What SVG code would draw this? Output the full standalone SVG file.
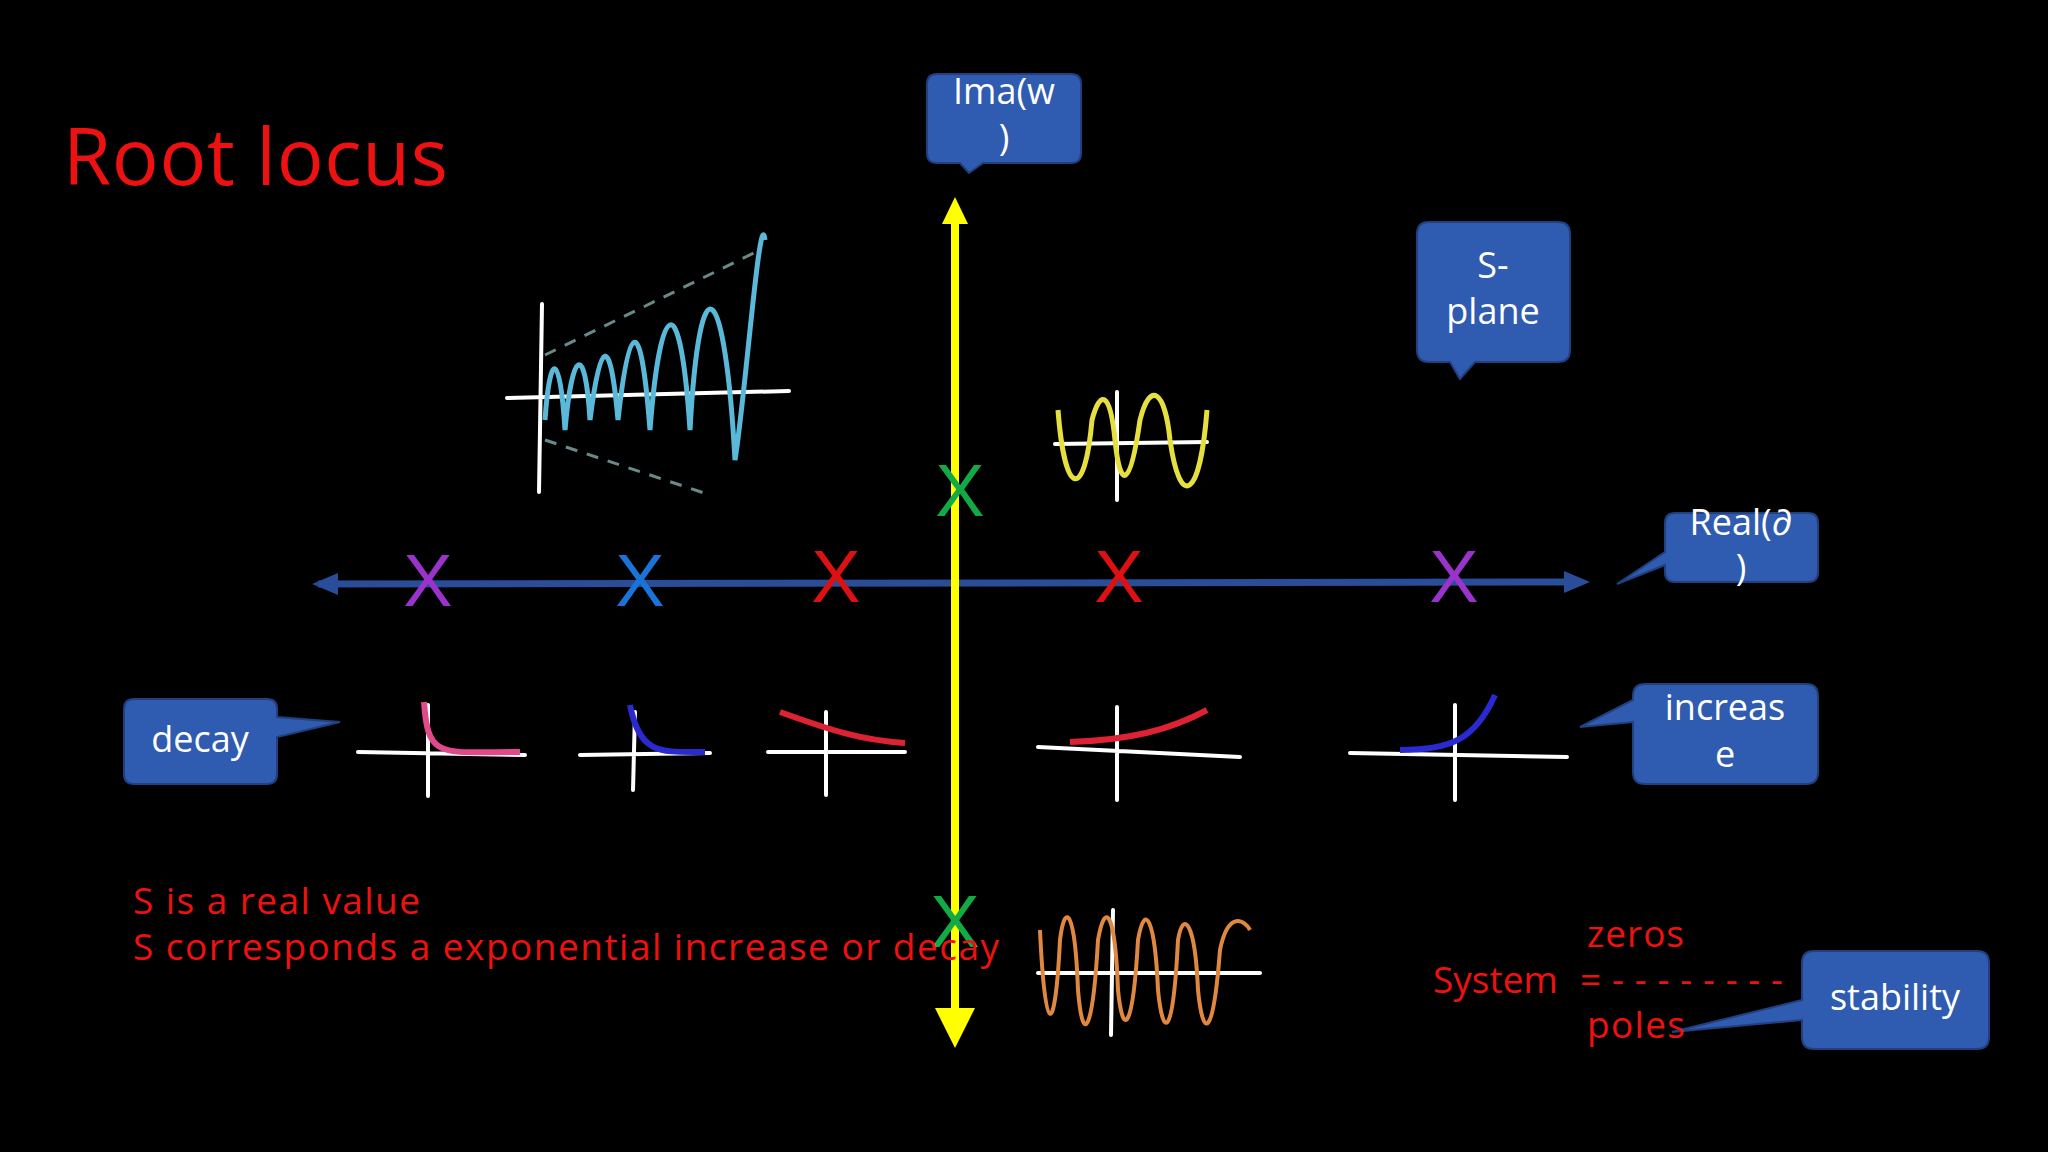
<svg xmlns="http://www.w3.org/2000/svg" width="2048" height="1152" viewBox="0 0 2048 1152">
<defs>
<style>
.cb{fill:#2f5bb0;stroke:#20407f;stroke-width:2}
.ct{font-family:"Open Sans","Liberation Sans",sans-serif;font-size:36px;fill:#fff;text-anchor:middle}
.rt{font-family:"Open Sans","Liberation Sans",sans-serif;font-size:37px;fill:#ee1111}
.x{font-family:"Liberation Sans",sans-serif;font-size:74px;text-anchor:middle}
.ax{stroke:#fff;stroke-width:4;fill:none;stroke-linecap:round}
</style>
</defs>
<rect width="2048" height="1152" fill="#000"/>
<text x="63" y="185" font-family="Open Sans,Liberation Sans,sans-serif" font-size="78" fill="#ee1111" textLength="385">Root locus</text>
<g id="connectors">
<line x1="318" y1="584" x2="1582" y2="582" stroke="#2a4d9a" stroke-width="7"/>
<path d="M312,584 L338,573 L338,595Z" fill="#2a4d9a"/>
<path d="M1590,582 L1564,571 L1564,593Z" fill="#2a4d9a"/>
<line x1="955" y1="215" x2="955" y2="1020" stroke="#ffff00" stroke-width="8"/>
<path d="M955,197 L942,224 L968,224Z" fill="#ffff00"/>
<path d="M955,1048 L935,1008 L975,1008Z" fill="#ffff00"/>
</g>
<g id="markers">
<text class="x" x="428" y="606" fill="#9933cc">X</text>
<text class="x" x="640" y="606" fill="#1a73d9">X</text>
<text class="x" x="836" y="602" fill="#dd1111">X</text>
<text class="x" x="1119" y="602" fill="#dd1111">X</text>
<text class="x" x="1454" y="602" fill="#9933cc">X</text>
<text class="x" x="960" y="516" fill="#11aa44">X</text>
<text class="x" x="955" y="947" fill="#11aa44">X</text>
</g>
<g id="sketch-growing">
<path class="ax" d="M542,304 L539,492 M507,398 L789,391"/>
<path d="M545,420 C550,350 560,350 565,430 C572,350 585,340 590,420 C600,340 610,330 618,420 C628,330 640,300 650,430 C660,300 680,280 690,430 C700,250 725,280 735,460 C745,400 760,200 765,240" fill="none" stroke="#5ab8d8" stroke-width="5"/>
<path d="M545,355 L760,250 M545,440 L710,495" stroke="#6a8a8a" stroke-width="3" stroke-dasharray="12 10" fill="none"/>
</g>
<g id="sketch-yellow">
<path class="ax" d="M1055,444 L1207,442 M1117,392 L1117,500"/>
<path d="M1058,410 C1065,500 1085,500 1092,420 C1100,390 1110,390 1115,440 C1120,490 1130,490 1140,420 C1150,380 1165,390 1170,440 C1180,510 1200,500 1207,410" fill="none" stroke="#e5e040" stroke-width="5"/>
</g>
<g id="sketch-orange">
<path class="ax" d="M1038,973 L1260,973 M1113,910 L1111,1035"/>
<path d="M1040,930 C1045,1040 1055,1040 1060,940 C1065,900 1075,910 1078,990 C1083,1050 1093,1030 1098,940 C1105,900 1115,910 1118,990 C1123,1040 1133,1030 1138,940 C1145,900 1155,920 1158,990 C1163,1040 1173,1040 1178,940 C1183,910 1195,920 1198,990 C1203,1040 1213,1040 1220,950 C1228,910 1245,920 1250,930" fill="none" stroke="#e08840" stroke-width="4"/>
</g>
<g id="sketch-small">
<path class="ax" d="M358,752 L525,755 M428,705 L428,796"/>
<path d="M424,702 C428,760 440,752 520,752" fill="none" stroke="#e04a8a" stroke-width="6"/>
<path class="ax" d="M580,755 L710,753 M635,712 L633,790"/>
<path d="M630,705 C640,755 660,752 705,752" fill="none" stroke="#2a2ad0" stroke-width="6"/>
<path class="ax" d="M768,752 L905,752 M826,712 L826,795"/>
<path d="M780,712 C830,730 860,740 905,743" fill="none" stroke="#dd2233" stroke-width="6"/>
<path class="ax" d="M1038,747 L1240,757 M1117,707 L1117,800"/>
<path d="M1070,742 C1130,740 1170,730 1207,710" fill="none" stroke="#dd2233" stroke-width="6"/>
<path class="ax" d="M1350,753 L1567,757 M1455,705 L1455,800"/>
<path d="M1400,750 C1450,750 1475,740 1495,695" fill="none" stroke="#2a2ad0" stroke-width="6"/>
</g>
<g id="callout-ima">
<path class="cb" d="M937,74 H1071 Q1081,74 1081,84 V153 Q1081,163 1071,163 H983 L969,173 L960,163 H937 Q927,163 927,153 V84 Q927,74 937,74Z"/>
<text class="ct" x="1004" y="104">Ima(w</text><text class="ct" x="1004" y="150">)</text>
</g>
<g id="callout-splane">
<path class="cb" d="M1429,222 H1558 Q1570,222 1570,234 V350 Q1570,362 1558,362 H1475 L1460,379 L1450,362 H1429 Q1417,362 1417,350 V234 Q1417,222 1429,222Z"/>
<text class="ct" x="1493" y="278">S-</text><text class="ct" x="1493" y="324">plane</text>
</g>
<g id="callout-real">
<path class="cb" d="M1675,513 H1808 Q1818,513 1818,523 V572 Q1818,582 1808,582 H1675 Q1665,582 1665,572 V565 L1617,584 L1665,552 V523 Q1665,513 1675,513Z"/>
<text class="ct" x="1741" y="535">Real(∂</text><text class="ct" x="1741" y="580">)</text>
</g>
<g id="callout-decay">
<path class="cb" d="M134,699 H267 Q277,699 277,709 V717 L340,722 L277,737 V774 Q277,784 267,784 H134 Q124,784 124,774 V709 Q124,699 134,699Z"/>
<text class="ct" x="200" y="752">decay</text>
</g>
<g id="callout-increase">
<path class="cb" d="M1645,684 H1806 Q1818,684 1818,696 V772 Q1818,784 1806,784 H1645 Q1633,784 1633,772 V722 L1580,727 L1633,700 V696 Q1633,684 1645,684Z"/>
<text class="ct" x="1725" y="720">increas</text><text class="ct" x="1725" y="767">e</text>
</g>
<g id="callout-stability">
<path class="cb" d="M1814,951 H1977 Q1989,951 1989,963 V1037 Q1989,1049 1977,1049 H1814 Q1802,1049 1802,1037 V1020 L1672,1032 L1802,1000 V963 Q1802,951 1814,951Z"/>
<text class="ct" x="1895" y="1010">stability</text>
</g>
<g id="notes">
<text class="rt" x="133" y="914" textLength="287">S is a real value</text>
<text class="rt" x="133" y="960" textLength="866">S corresponds a exponential increase or decay</text>
<text class="rt" x="1587" y="947" textLength="97">zeros</text>
<text class="rt" x="1433" y="993">System</text>
<text class="rt" x="1580" y="993" textLength="203">=--------</text>
<text class="rt" x="1587" y="1038" textLength="98">poles</text>
</g>
</svg>
